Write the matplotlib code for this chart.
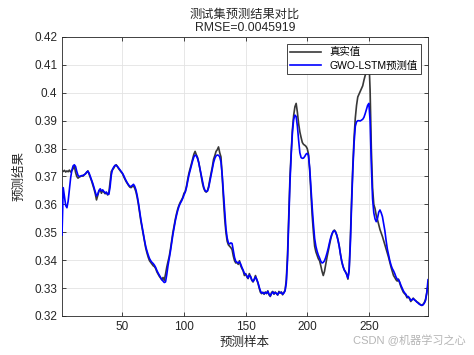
import numpy as np
import matplotlib.pyplot as plt
from matplotlib.ticker import FormatStrFormatter

plt.rcParams['font.family'] = ['Liberation Sans', 'Noto Sans CJK SC']

# 真实值 (test samples 1..298)
true_vals = [
    0.3721, 0.3718, 0.3722, 0.3716, 0.3720, 0.3717, 0.3723, 0.3716, 0.3721, 0.3728,
    0.3738, 0.3715, 0.3700, 0.3694, 0.3698, 0.3700, 0.3703, 0.3701, 0.3706, 0.3710,
    0.3714, 0.3720, 0.3708, 0.3696, 0.3684, 0.3670, 0.3655, 0.3638, 0.3616, 0.3632,
    0.3648, 0.3652, 0.3640, 0.3650, 0.3644, 0.3638, 0.3643, 0.3634, 0.3641, 0.3680,
    0.3718, 0.3724, 0.3730, 0.3738, 0.3742, 0.3735, 0.3728, 0.3722, 0.3716, 0.3711,
    0.3700, 0.3691, 0.3682, 0.3675, 0.3668, 0.3662, 0.3660, 0.3664, 0.3666, 0.3658,
    0.3645, 0.3625, 0.3600, 0.3570, 0.3540, 0.3515, 0.3490, 0.3465, 0.3442, 0.3425,
    0.3410, 0.3398, 0.3392, 0.3386, 0.3380, 0.3377, 0.3370, 0.3358, 0.3350, 0.3342,
    0.3336, 0.3330, 0.3338, 0.3328, 0.3350, 0.3375, 0.3395, 0.3413, 0.3440, 0.3470,
    0.3500, 0.3525, 0.3548, 0.3568, 0.3585, 0.3598, 0.3608, 0.3616, 0.3625, 0.3640,
    0.3646, 0.3665, 0.3690, 0.3712, 0.3728, 0.3745, 0.3762, 0.3780, 0.3790, 0.3778,
    0.3768, 0.3750, 0.3725, 0.3700, 0.3675, 0.3658, 0.3648, 0.3644, 0.3648, 0.3665,
    0.3690, 0.3712, 0.3735, 0.3762, 0.3775, 0.3790, 0.3796, 0.3806, 0.3785, 0.3770,
    0.3700, 0.3620, 0.3550, 0.3500, 0.3468, 0.3455, 0.3450, 0.3445, 0.3438, 0.3415,
    0.3398, 0.3390, 0.3392, 0.3385, 0.3398, 0.3380, 0.3370, 0.3362, 0.3345, 0.3352,
    0.3340, 0.3334, 0.3352, 0.3340, 0.3328, 0.3322, 0.3332, 0.3345, 0.3330, 0.3318,
    0.3300, 0.3285, 0.3280, 0.3285, 0.3278, 0.3286, 0.3280, 0.3290, 0.3276, 0.3270,
    0.3284, 0.3288, 0.3278, 0.3286, 0.3280, 0.3275, 0.3288, 0.3282, 0.3286, 0.3276,
    0.3284, 0.3292, 0.3330, 0.3420, 0.3560, 0.3700, 0.3790, 0.3870, 0.3920, 0.3950,
    0.3962, 0.3930, 0.3890, 0.3860, 0.3840, 0.3822, 0.3815, 0.3812, 0.3808, 0.3800,
    0.3780, 0.3720, 0.3640, 0.3560, 0.3500, 0.3450, 0.3430, 0.3418, 0.3405, 0.3398,
    0.3380, 0.3360, 0.3345, 0.3360, 0.3385, 0.3410, 0.3432, 0.3455, 0.3475, 0.3492,
    0.3503, 0.3508, 0.3502, 0.3490, 0.3472, 0.3450, 0.3420, 0.3395, 0.3378, 0.3365,
    0.3358, 0.3350, 0.3332, 0.3370, 0.3480, 0.3620, 0.3740, 0.3840, 0.3910, 0.3955,
    0.3985, 0.3995, 0.4005, 0.4015, 0.4025, 0.4045, 0.4062, 0.4075, 0.4100, 0.4125,
    0.4010, 0.3800, 0.3660, 0.3600, 0.3585, 0.3560, 0.3545, 0.3528, 0.3510, 0.3498,
    0.3485, 0.3470, 0.3455, 0.3440, 0.3425, 0.3410, 0.3392, 0.3375, 0.3360, 0.3345,
    0.3338, 0.3330, 0.3325, 0.3332, 0.3318, 0.3305, 0.3295, 0.3285, 0.3280, 0.3275,
    0.3265, 0.3270, 0.3262, 0.3252, 0.3258, 0.3264, 0.3258, 0.3255, 0.3250, 0.3248,
    0.3244, 0.3240, 0.3238, 0.3242, 0.3248, 0.3260, 0.3285, 0.3310,
]

# GWO-LSTM预测值
pred_vals = [
    0.3490, 0.3660, 0.3628, 0.3596, 0.3588, 0.3612, 0.3655, 0.3695, 0.3722, 0.3738,
    0.3742, 0.3736, 0.3718, 0.3704, 0.3700, 0.3701, 0.3703, 0.3704, 0.3706, 0.3709,
    0.3716, 0.3719, 0.3712, 0.3700, 0.3688, 0.3675, 0.3660, 0.3645, 0.3630, 0.3636,
    0.3650, 0.3656, 0.3648, 0.3652, 0.3646, 0.3641, 0.3644, 0.3636, 0.3636, 0.3662,
    0.3705, 0.3726, 0.3734, 0.3740, 0.3740, 0.3736, 0.3730, 0.3724, 0.3718, 0.3712,
    0.3704, 0.3694, 0.3685, 0.3677, 0.3670, 0.3665, 0.3664, 0.3668, 0.3672, 0.3665,
    0.3652, 0.3632, 0.3606, 0.3576, 0.3546, 0.3520, 0.3494, 0.3470, 0.3448, 0.3432,
    0.3418, 0.3406, 0.3398, 0.3392, 0.3388, 0.3382, 0.3374, 0.3363, 0.3354, 0.3346,
    0.3338, 0.3330, 0.3325, 0.3320, 0.3322, 0.3348, 0.3380, 0.3405, 0.3432, 0.3462,
    0.3492, 0.3518, 0.3542, 0.3562, 0.3580, 0.3594, 0.3604, 0.3612, 0.3622, 0.3634,
    0.3644, 0.3660, 0.3683, 0.3705, 0.3722, 0.3740, 0.3756, 0.3770, 0.3777, 0.3774,
    0.3764, 0.3748, 0.3726, 0.3702, 0.3680, 0.3662, 0.3650, 0.3646, 0.3648, 0.3660,
    0.3682, 0.3705, 0.3728, 0.3750, 0.3765, 0.3774, 0.3777, 0.3776, 0.3770, 0.3752,
    0.3705, 0.3640, 0.3570, 0.3515, 0.3480, 0.3462, 0.3458, 0.3462, 0.3460, 0.3435,
    0.3410, 0.3396, 0.3392, 0.3390, 0.3394, 0.3386, 0.3374, 0.3364, 0.3352, 0.3350,
    0.3344, 0.3336, 0.3346, 0.3342, 0.3330, 0.3324, 0.3330, 0.3340, 0.3332, 0.3320,
    0.3304, 0.3290, 0.3282, 0.3284, 0.3280, 0.3284, 0.3282, 0.3288, 0.3278, 0.3272,
    0.3280, 0.3286, 0.3280, 0.3284, 0.3281, 0.3276, 0.3285, 0.3283, 0.3285, 0.3278,
    0.3282, 0.3290, 0.3318, 0.3400, 0.3540, 0.3680, 0.3780, 0.3860, 0.3905, 0.3920,
    0.3915, 0.3880, 0.3830, 0.3785, 0.3768, 0.3765, 0.3766, 0.3772, 0.3780, 0.3783,
    0.3775, 0.3730, 0.3660, 0.3590, 0.3530, 0.3478, 0.3450, 0.3432, 0.3418, 0.3408,
    0.3396, 0.3390, 0.3392, 0.3398, 0.3410, 0.3425, 0.3442, 0.3462, 0.3480, 0.3494,
    0.3503, 0.3506, 0.3500, 0.3488, 0.3470, 0.3448, 0.3420, 0.3396, 0.3378, 0.3366,
    0.3358, 0.3348, 0.3336, 0.3362, 0.3460, 0.3600, 0.3725, 0.3820, 0.3880, 0.3896,
    0.3900, 0.3900, 0.3899, 0.3902, 0.3905, 0.3912, 0.3925, 0.3940, 0.3955, 0.3962,
    0.3900, 0.3740, 0.3620, 0.3570, 0.3548, 0.3538, 0.3550, 0.3572, 0.3580, 0.3570,
    0.3556, 0.3530, 0.3505, 0.3470, 0.3440, 0.3418, 0.3398, 0.3382, 0.3370, 0.3362,
    0.3352, 0.3340, 0.3332, 0.3330, 0.3322, 0.3310, 0.3300, 0.3290, 0.3283, 0.3278,
    0.3270, 0.3268, 0.3264, 0.3256, 0.3258, 0.3262, 0.3258, 0.3254, 0.3250, 0.3246,
    0.3242, 0.3240, 0.3238, 0.3240, 0.3246, 0.3256, 0.3282, 0.3330,
]

x_ticks = [50, 100, 150, 200, 250]

x = np.arange(1, len(true_vals) + 1)

fig = plt.figure(figsize=(4.74, 3.55), dpi=100)
ax = fig.add_axes([0.1308, 0.1099, 0.7722, 0.7859])

ax.plot(x, true_vals, color='#383838', lw=1.2, label='真实值', zorder=3)
ax.plot(x, pred_vals, color='#0000ff', lw=1.2, label='GWO-LSTM预测值', zorder=3)

ax.set_xlim(1, len(true_vals))
ax.set_ylim(0.32, 0.42)
ax.set_xticks(x_ticks)
ax.set_yticks(np.arange(0.32, 0.4201, 0.01))
ax.yaxis.set_major_formatter(FormatStrFormatter('%g'))

ax.grid(True, color='#e3e3e3', lw=0.6)
ax.set_axisbelow(True)
ax.tick_params(direction='in', top=True, right=True, labelsize=8.5,
               length=3, width=0.6, colors='#262626')
for s in ax.spines.values():
    s.set_color('#262626')
    s.set_linewidth(0.6)

ax.set_title('测试集预测结果对比\nRMSE=0.0045919', fontsize=8.8,
             color='#262626', pad=4, linespacing=1.2)
ax.set_xlabel('预测样本', fontsize=9, color='#262626', labelpad=3)
ax.set_ylabel('预测结果', fontsize=9, color='#262626', labelpad=6)

leg = ax.legend(loc='upper right', fontsize=7.5, fancybox=False, framealpha=1,
                edgecolor='#262626', handlelength=3.0, borderaxespad=0.7,
                borderpad=0.3, labelspacing=0.3)
leg.set_zorder(5)
leg.get_frame().set_linewidth(0.6)

fig.text(0.982, 0.025, 'CSDN @机器学习之心', ha='right', va='bottom',
         color='#b5b5b5', fontsize=8)

fig.savefig('out.png', dpi=100)
